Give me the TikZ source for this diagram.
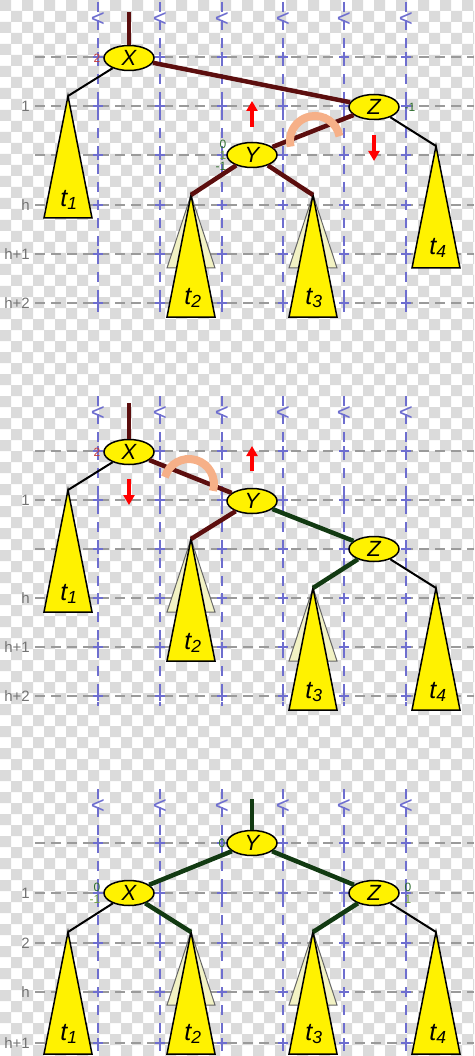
\documentclass[tikz,border=0pt]{standalone}
\usepackage{fontspec}
\setmainfont{Liberation Sans}
\usetikzlibrary{shapes, arrows.meta}

\definecolor{treered}{HTML}{5C0E0E}
\definecolor{treegreen}{HTML}{123A12}
\definecolor{guideblue}{HTML}{6E6ECF}
\definecolor{levelgray}{HTML}{9A9A9A}
\definecolor{ghost}{HTML}{F2F2C4}
\definecolor{rotsalmon}{HTML}{F6B088}
\definecolor{balred}{HTML}{C43A3A}
\definecolor{baldark}{HTML}{2F6E2F}
\definecolor{ballight}{HTML}{6FA040}

\tikzset{
    key/.style={ellipse, draw, line width=1.5pt, fill=yellow, minimum width=50pt, minimum height=25pt, inner sep=0pt, font=\fontsize{22}{22}\selectfont\itshape},
    redlink/.style={draw=treered, line width=4.5pt},
    greenlink/.style={draw=treegreen, line width=4.5pt},
    thinlink/.style={draw=black, line width=2pt},
    subtree/.style={draw, line width=1.5pt, fill=yellow},
    oldtree/.style={draw=black!60, line width=1pt, fill=ghost},
    tlabel/.style={font=\fontsize{25}{25}\selectfont\itshape, inner sep=0pt},
    level/.style={draw=levelgray, line width=1.3pt, dash pattern=on 10pt off 6pt},
    levellabel/.style={anchor=east, text=black!55, font=\fontsize{15}{15}\selectfont, inner sep=1pt},
    guide/.style={draw=guideblue, line width=1.2pt, dash pattern=on 10pt off 8pt},
    chev/.style={text=guideblue, font=\fontsize{24}{24}\selectfont, inner sep=0pt},
    bal/.style={font=\fontsize{12}{12}\selectfont, inner sep=0pt},
    shiftarrow/.style={draw=red, line width=4pt, -{Triangle[width=11pt,length=10pt]}},
    rotation/.style={draw=rotsalmon, line width=8pt},
    checker/.style={fill=gray!28},
}

\begin{document}
\begin{tikzpicture}[x=1pt, y=-1pt]
    \useasboundingbox (0,0) rectangle (474,1056);
    \clip (0,0) rectangle (474,1056);

    % transparency checkerboard
    \fill[white] (0,0) rectangle (474,1056);
    \foreach \j in {0,2,...,96}
        \foreach \i in {0,2,...,42}
            {\fill[checker] (\i*11,\j*11) rectangle ++(11,11) (\i*11+11,\j*11+11) rectangle ++(11,11);}

    % ---------- top: before ----------
    \begin{scope}
        \foreach \y in {57,106,155,205,254,303} \draw[level] (35,\y) -- (474,\y);
        \foreach \y/\lab in {106/1, 205/h, 254/h+1, 303/h+2} \node at (31,\y) [levellabel] {\lab};
        \foreach \x in {98,160,222,283,344,406} {
            \draw[guide] (\x,2) -- (\x,312);
            \node at (\x,20) [chev] {<};
            \foreach \y in {57,106,155,205,254,303} \draw[guideblue, line width=1.2pt] (\x-5,\y) -- (\x+5,\y) (\x,\y-5) -- (\x,\y+5);
        }

        \coordinate (t1_a) at (68,96);
        \coordinate (t2_a) at (191,195);
        \coordinate (t3_a) at (313,195);
        \coordinate (t4_a) at (436,146);
        \coordinate (root_a) at (129,12);

        \foreach \t in {t2_a,t3_a} \draw[oldtree] (\t) -- ++(-24,73) -- ++(48,0) -- cycle;
        \foreach \t in {t1_a,t2_a,t3_a,t4_a} \draw[subtree] (\t) -- ++(-24,122) -- ++(48,0) -- cycle;

        \node at (69,200) [tlabel] (t1_a_label) {t\textsubscript{1}};
        \node at (193,298) [tlabel] (t2_a_label) {t\textsubscript{2}};
        \node at (314,298) [tlabel] (t3_a_label) {t\textsubscript{3}};
        \node at (438,248) [tlabel] (t4_a_label) {t\textsubscript{4}};

        \node at (129,58) [key] (X_a) {X};
        \node at (374,107) [key] (Z_a) {Z};
        \node at (252,155) [key] (Y_a) {Y};

        \draw   (X_a) edge[redlink] (root_a)
                (X_a) edge[redlink] (Z_a)
                (Z_a) edge[redlink] (Y_a)
                (Y_a) edge[redlink] (t2_a)
                (Y_a) edge[redlink] (t3_a)
                (X_a) edge[thinlink] (t1_a)
                (Z_a) edge[thinlink] (t4_a)
            ;

        \node at (97,58) [bal, text=balred] (X_a_bal) {2};
        \node at (410,107) [bal, text=baldark] (Z_a_bal) {-1};
        \node at (223,144) [bal, text=baldark] (Y_a_bal0) {0};
        \node at (223,155) [bal, text=ballight] (Y_a_bal1) {1};
        \node at (221,166) [bal, text=baldark] (Y_a_bal2) {-1};

        \draw[shiftarrow] (252,127) -- (252,101);
        \draw[shiftarrow] (374,135) -- (374,161);
        \draw[rotation] (339.5,136.2) arc[start angle=-11, end angle=-193, radius=25];
    \end{scope}

    % ---------- middle: after first rotation ----------
    \begin{scope}[yshift=-394pt]
        \foreach \y in {57,106,155,204,253,302} \draw[level] (35,\y) -- (474,\y);
        \foreach \y/\lab in {106/1, 204/h, 253/h+1, 302/h+2} \node at (31,\y) [levellabel] {\lab};
        \foreach \x in {98,160,222,283,344,406} {
            \draw[guide] (\x,2) -- (\x,312);
            \node at (\x,20) [chev] {<};
            \foreach \y in {57,106,155,204,253,302} \draw[guideblue, line width=1.2pt] (\x-5,\y) -- (\x+5,\y) (\x,\y-5) -- (\x,\y+5);
        }

        \coordinate (t1_b) at (68,96);
        \coordinate (t2_b) at (191,145);
        \coordinate (t3_b) at (313,194);
        \coordinate (t4_b) at (436,194);
        \coordinate (root_b) at (129,9);

        \foreach \t in {t2_b,t3_b} \draw[oldtree] (\t) -- ++(-24,73) -- ++(48,0) -- cycle;
        \foreach \t in {t1_b,t2_b,t3_b,t4_b} \draw[subtree] (\t) -- ++(-24,122) -- ++(48,0) -- cycle;

        \node at (69,200) [tlabel] (t1_b_label) {t\textsubscript{1}};
        \node at (193,249) [tlabel] (t2_b_label) {t\textsubscript{2}};
        \node at (314,298) [tlabel] (t3_b_label) {t\textsubscript{3}};
        \node at (438,298) [tlabel] (t4_b_label) {t\textsubscript{4}};

        \node at (129,58) [key] (X_b) {X};
        \node at (252,107) [key] (Y_b) {Y};
        \node at (374,155) [key] (Z_b) {Z};

        \draw   (X_b) edge[redlink] (root_b)
                (X_b) edge[redlink] (Y_b)
                (Y_b) edge[redlink] (t2_b)
                (Y_b) edge[greenlink] (Z_b)
                (Z_b) edge[greenlink] (t3_b)
                (X_b) edge[thinlink] (t1_b)
                (Z_b) edge[thinlink] (t4_b)
            ;

        \node at (97,58) [bal, text=balred] (X_b_bal) {2};

        \draw[shiftarrow] (129,85) -- (129,111);
        \draw[shiftarrow] (252,77) -- (252,52);
        \draw[rotation] (213,96.9) arc[start angle=16, end angle=-164, radius=25];
    \end{scope}

    % ---------- bottom: balanced ----------
    \begin{scope}[yshift=-787pt]
        \foreach \y in {56,106,156,205,256} \draw[level] (35,\y) -- (474,\y);
        \foreach \y/\lab in {106/1, 156/2, 205/h, 256/h+1} \node at (31,\y) [levellabel] {\lab};
        \foreach \x in {98,160,222,283,344,406} {
            \draw[guide] (\x,2) -- (\x,270);
            \node at (\x,19) [chev] {<};
            \foreach \y in {56,106,156,205,256} \draw[guideblue, line width=1.2pt] (\x-5,\y) -- (\x+5,\y) (\x,\y-5) -- (\x,\y+5);
        }

        \coordinate (t1_c) at (68,145);
        \coordinate (t2_c) at (191,145);
        \coordinate (t3_c) at (313,145);
        \coordinate (t4_c) at (436,145);
        \coordinate (root_c) at (252,12);

        \foreach \t in {t2_c,t3_c} \draw[oldtree] (\t) -- ++(-24,73) -- ++(48,0) -- cycle;
        \foreach \t in {t1_c,t2_c,t3_c,t4_c} \draw[subtree] (\t) -- ++(-24,122) -- ++(48,0) -- cycle;

        \node at (69,247) [tlabel] (t1_c_label) {t\textsubscript{1}};
        \node at (193,247) [tlabel] (t2_c_label) {t\textsubscript{2}};
        \node at (314,247) [tlabel] (t3_c_label) {t\textsubscript{3}};
        \node at (438,247) [tlabel] (t4_c_label) {t\textsubscript{4}};

        \node at (252,56) [key] (Y_c) {Y};
        \node at (129,106) [key] (X_c) {X};
        \node at (374,106) [key] (Z_c) {Z};

        \draw   (Y_c) edge[greenlink] (root_c)
                (Y_c) edge[greenlink] (X_c)
                (Y_c) edge[greenlink] (Z_c)
                (X_c) edge[greenlink] (t2_c)
                (Z_c) edge[greenlink] (t3_c)
                (X_c) edge[thinlink] (t1_c)
                (Z_c) edge[thinlink] (t4_c)
            ;

        \node at (222,56) [bal, text=baldark] (Y_c_bal) {0};
        \node at (97,100) [bal, text=baldark] (X_c_bal0) {0};
        \node at (95,112) [bal, text=ballight] (X_c_bal1) {-1};
        \node at (408,100) [bal, text=baldark] (Z_c_bal0) {0};
        \node at (408,112) [bal, text=ballight] (Z_c_bal1) {1};
    \end{scope}
\end{tikzpicture}
\end{document}
